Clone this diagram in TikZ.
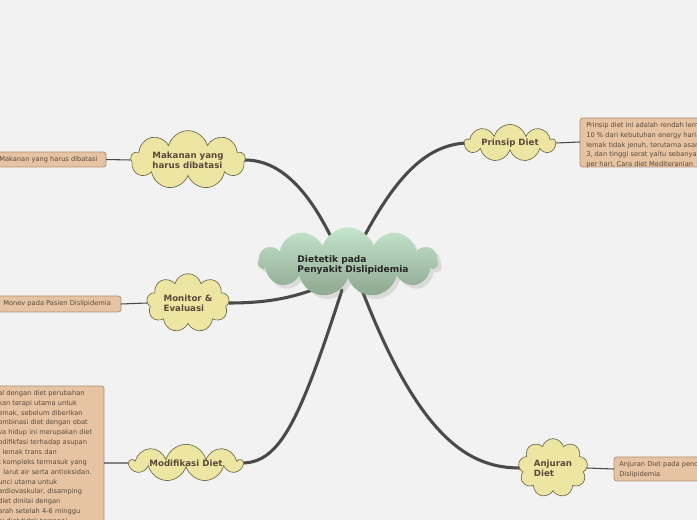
\documentclass[tikz,border=0pt]{standalone}
\usepackage{fontspec}
\setmainfont{DejaVu Sans}
\usetikzlibrary{shapes.symbols,shadows}
\definecolor{bg}{HTML}{F2F2F2}
\definecolor{cl}{HTML}{EDE6A2}
\definecolor{clb}{HTML}{6B6B4A}
\definecolor{bx}{HTML}{E6C3A2}
\definecolor{bxb}{HTML}{B0927A}
\definecolor{tx}{HTML}{5A4A3A}
\definecolor{ln}{HTML}{4A4A4A}
\definecolor{ctop}{HTML}{C4E4CC}
\definecolor{cbot}{HTML}{8FA890}
\begin{document}
\begin{tikzpicture}[x=0.75pt,y=-0.75pt,
 cloudn/.style={cloud,cloud puffs=9,cloud ignores aspect,draw=clb,fill=cl,line width=0.5pt,inner sep=0pt},
 ctext/.style={font=\fontsize{6.5}{7.5}\selectfont\bfseries,text=tx,align=left},
 bt/.style={font=\fontsize{5}{7.4}\selectfont,text=tx,align=left,anchor=north west,inner sep=0pt},
 boxf/.style={fill=bx,draw=bxb,rounded corners=2pt,line width=0.6pt},
 main/.style={ln,line width=2.3pt,line cap=round},
 sub/.style={ln,line width=0.8pt}]
\fill[bg] (0,0) rectangle (697,520);
\useasboundingbox (0,0) rectangle (697,520);
\clip (0,0) rectangle (697,520);
% main connectors
\draw[main] (330,235) .. controls (300,175) and (270,160) .. (245,160);
\draw[main] (325,285) .. controls (290,300) and (260,303) .. (229,303);
\draw[main] (342,290) .. controls (300,420) and (280,463) .. (242,463);
\draw[main] (365,235) .. controls (400,170) and (430,145) .. (466,143);
\draw[main] (362,290) .. controls (420,440) and (470,468) .. (520,468);
% centre
\node[cloud,cloud puffs=11,cloud ignores aspect,inner sep=0pt,minimum width=135pt,minimum height=52pt,top color=ctop,bottom color=cbot,draw=none,drop shadow={opacity=0.2}] (cn) at (348,262) {};
\node[font=\fontsize{6.8}{8}\selectfont\bfseries,align=left,text=black!85] (ct) at (353,265) {Dietetik pada\\Penyakit Dislipidemia};
% clouds
\node[cloudn,minimum width=86pt,minimum height=44pt] (mk) at (188,160) {};
\node[ctext] at (mk) {Makanan yang\\harus dibatasi};
\node[cloudn,minimum width=62pt,minimum height=44pt] (mo) at (188,303) {};
\node[ctext] at (mo) {Monitor \&\\Evaluasi};
\node[cloudn,minimum width=84pt,minimum height=28pt] (md) at (186,463) {};
\node[ctext] at (md) {Modifikasi Diet};
\node[cloudn,minimum width=68pt,minimum height=28pt] (pr) at (510,143) {};
\node[ctext] at (pr) {Prinsip Diet};
\node[cloudn,minimum width=52pt,minimum height=44pt] (an) at (553,468) {};
\node[ctext] at (an) {Anjuran\\Diet};
% boxes
\draw[boxf] (-8,152) rectangle (106,167);
\draw[boxf] (-8,296) rectangle (121,312);
\draw[boxf] (-8,386) rectangle (104,530);
\draw[boxf] (580,118) rectangle (710,167);
\draw[boxf] (614,457) rectangle (710,481);
\coordinate (b1e) at (106,159.5);
\coordinate (b2e) at (121,304);
\coordinate (b3e) at (104,463);
\coordinate (b4w) at (580,142);
\coordinate (b5w) at (614,469);
\draw[sub] (mk.west) -- (b1e);
\draw[sub] (mo.west) -- (b2e);
\draw[sub] (md.west) -- (b3e);
\draw[sub] (pr.east) -- (b4w);
\draw[sub] (an.east) -- (b5w);
\node[bt] (t1) at (-1,156) {Makanan yang harus dibatasi};
\node[bt] (t2) at (3,300) {Monev pada Pasien Dislipidemia};
\node[bt] (t3) at (-2,390) {al dengan diet perubahan\\kan terapi utama untuk\\emak, sebelum diberikan\\ombinasi diet dengan obat\\va hidup ini merupakan diet\\odifikfasi terhadap asupan\\, lemak trans dan\\t kompleks termasuk yang\\: larut air serta antioksidan.\\unci utama untuk\\ardiovaskular, disamping\\diet dinilai dengan\\arah setelah 4-6 minggu\\pi diet tidak tercapai\\perubahan gaya hidup ini,};
\node[bt] (t4) at (586,122) {Prinsip diet ini adalah rendah lemak jenuh <\\10 \% dari kebutuhan energy harian, tinggi\\lemak tidak jenuh, terutama asam lemak omega\\3, dan tinggi serat yaitu sebanyak 25-30 gram\\per hari, Cara diet Mediteranian};
\node[bt] (t5) at (619,461) {Anjuran Diet pada penderita\\Dislipidemia};
\end{tikzpicture}
\end{document}
